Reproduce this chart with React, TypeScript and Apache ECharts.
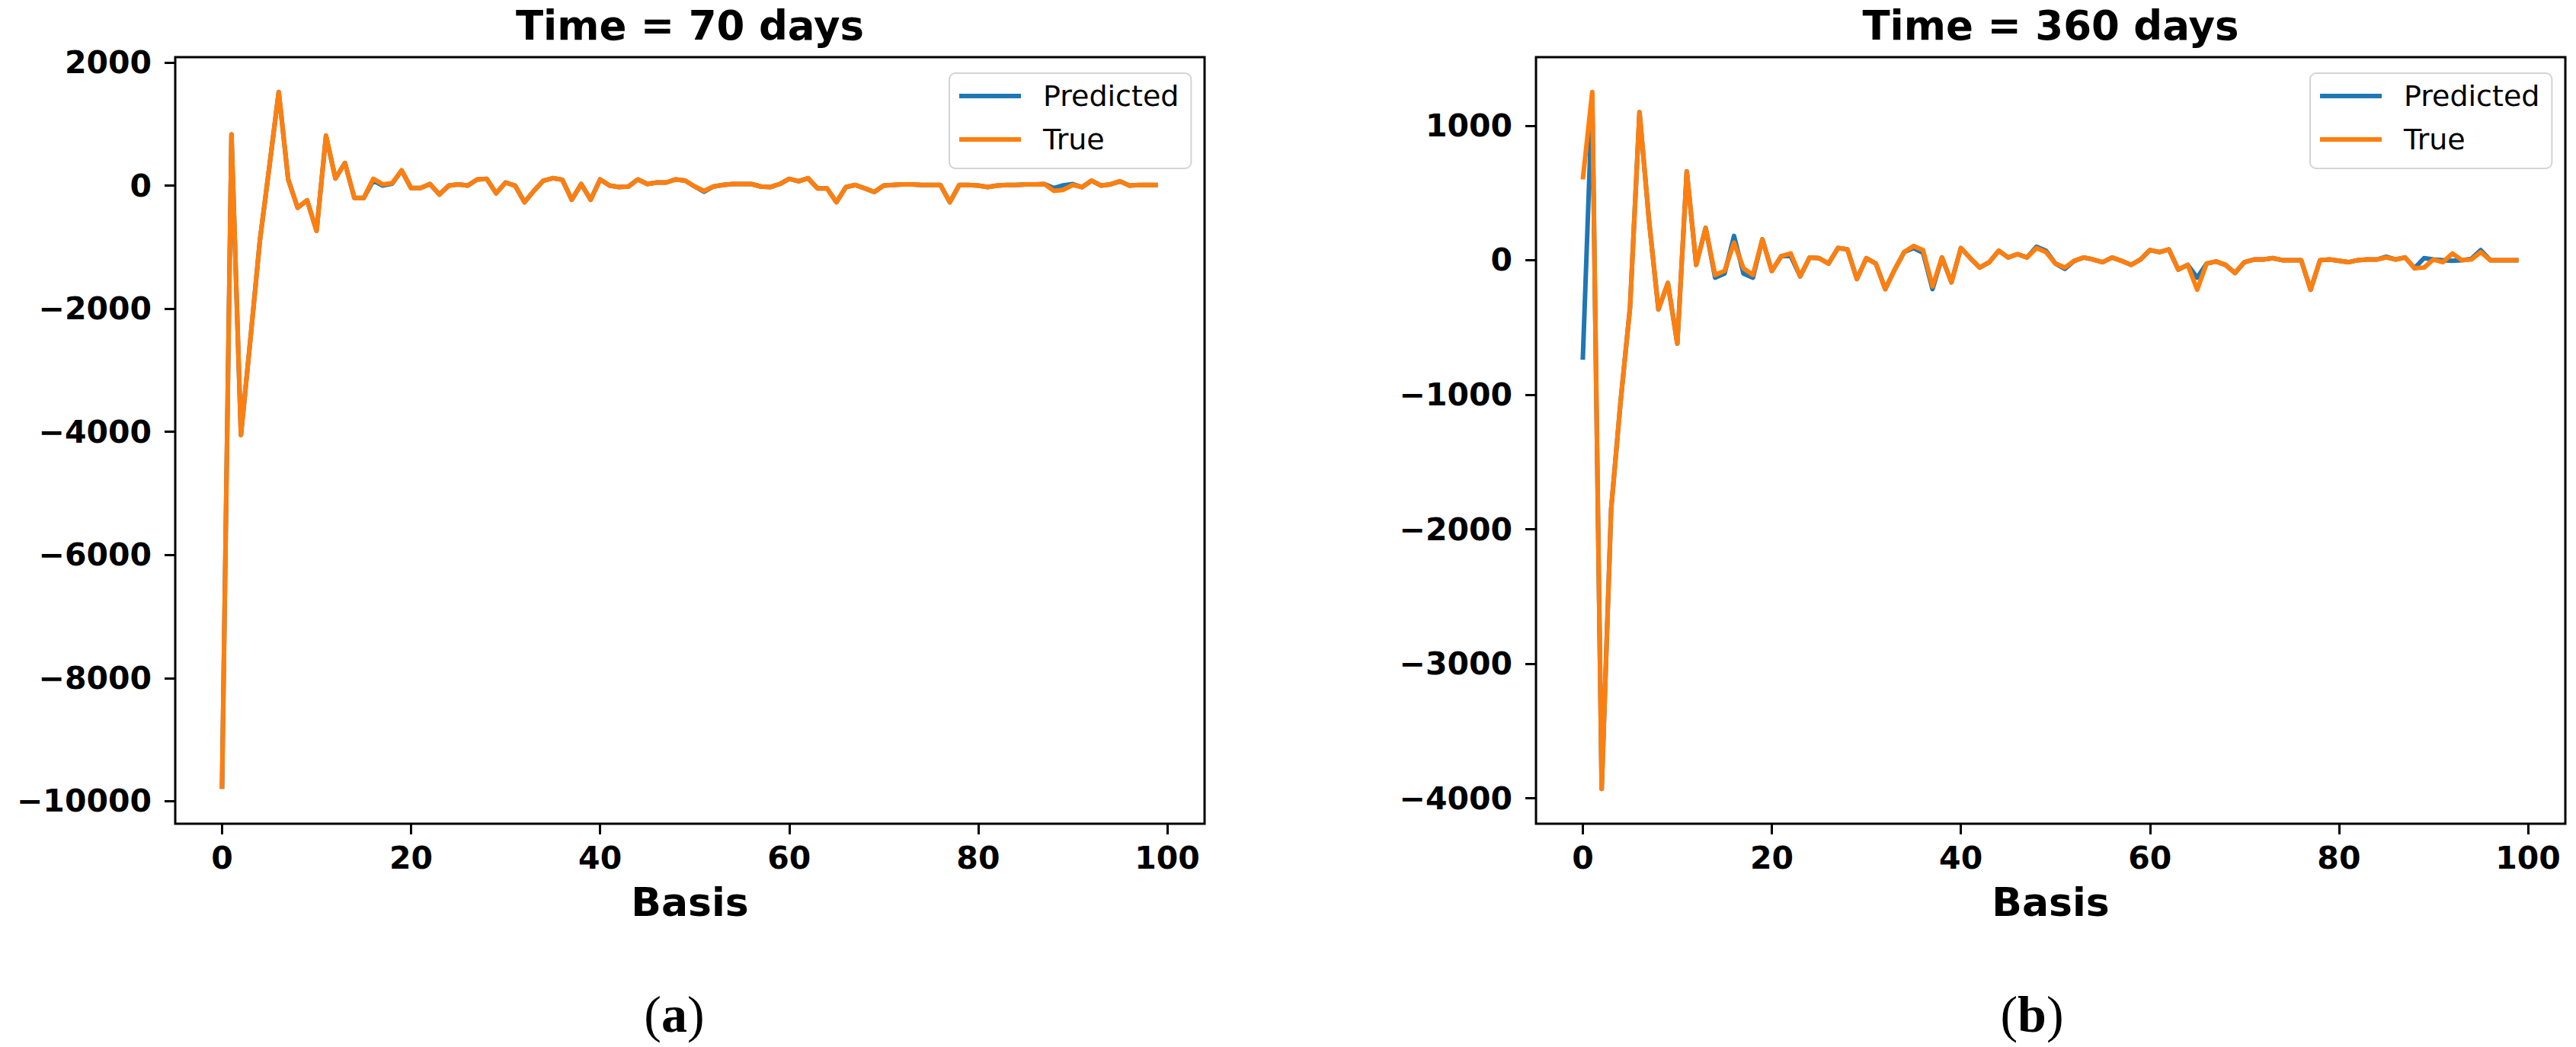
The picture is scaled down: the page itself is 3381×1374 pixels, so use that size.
import React, { useEffect, useRef } from "react";
import * as echarts from "echarts";

// ---------------- data ----------------
const basis: number[] = [
  0, 1, 2, 3, 4, 5, 6, 7, 8, 9, 10, 11, 12, 13, 14, 15, 16, 17, 18, 19,
  20, 21, 22, 23, 24, 25, 26, 27, 28, 29, 30, 31, 32, 33, 34, 35, 36, 37, 38, 39,
  40, 41, 42, 43, 44, 45, 46, 47, 48, 49, 50, 51, 52, 53, 54, 55, 56, 57, 58, 59,
  60, 61, 62, 63, 64, 65, 66, 67, 68, 69, 70, 71, 72, 73, 74, 75, 76, 77, 78, 79,
  80, 81, 82, 83, 84, 85, 86, 87, 88, 89, 90, 91, 92, 93, 94, 95, 96, 97, 98, 99,
];

const true70: number[] = [
  -9800, 830, -4050, -2500, -900, 300, 1520, 100, -360, -240,
  -735, 810, 115, 368, -200, -200, 110, 20, 40, 245,
  -40, -40, 25, -145, 0, 20, 0, 100, 110, -125,
  50, 0, -270, -85, 80, 120, 95, -230, 25, -230,
  100, 0, -25, -15, 100, 25, 50, 50, 100, 80,
  -15, -85, -15, 10, 25, 25, 25, -15, -25, 25,
  110, 70, 120, -45, -45, -270, -25, 10, -45, -105,
  0, 10, 20, 20, 10, 10, 10, -270, 10, 10,
  0, -25, 0, 10, 10, 20, 20, 25, -85, -70,
  10, -25, 80, 0, 20, 70, 0, 10, 10, 10,
];

const pred70: number[] = [
  -9800, 830, -4050, -2500, -900, 300, 1520, 100, -360, -240,
  -735, 810, 115, 368, -200, -200, 80, 0, 30, 245,
  -40, -40, 25, -145, 0, 20, 0, 100, 110, -125,
  50, 0, -270, -85, 80, 120, 95, -230, 25, -230,
  100, 0, -25, -15, 100, 25, 50, 50, 100, 80,
  -15, -100, -15, 10, 25, 25, 25, -15, -25, 25,
  110, 70, 120, -45, -45, -270, -25, 10, -45, -105,
  0, 10, 20, 20, 10, 10, 10, -270, 10, 10,
  0, -25, 0, 10, 10, 20, 20, 25, -40, 5,
  25, -25, 80, 0, 20, 70, 0, 10, 10, 10,
];

const true360: number[] = [
  600, 1250, -3930, -1850, -1050, -350, 1100, 300, -365, -170,
  -620, 660, -35, 240, -110, -80, 130, -60, -110, 155,
  -80, 30, 50, -120, 20, 15, -25, 90, 80, -140,
  15, -25, -215, -70, 60, 105, 75, -195, 20, -165,
  90, 15, -55, -15, 70, 20, 45, 20, 90, 60,
  -25, -55, -5, 20, 5, -15, 20, -5, -35, 5,
  75, 60, 80, -70, -35, -220, -25, -10, -35, -95,
  -15, 5, 5, 15, 0, 0, 0, -220, 0, 5,
  -5, -15, 0, 5, 5, 20, 5, 20, -60, -55,
  5, -15, 50, 0, 5, 60, 0, 0, 0, 0,
];

const pred360: number[] = [
  -740, 1230, -3930, -1850, -1050, -350, 1100, 300, -365, -170,
  -620, 660, -35, 240, -130, -100, 180, -100, -130, 155,
  -80, 30, 30, -120, 20, 15, -25, 90, 80, -140,
  15, -25, -215, -70, 60, 90, 55, -215, 20, -165,
  90, 15, -55, -15, 70, 20, 45, 20, 100, 70,
  -25, -65, -5, 20, 5, -15, 20, -5, -35, 5,
  75, 60, 80, -70, -35, -130, -25, -10, -35, -95,
  -15, 5, 5, 15, 0, 0, 0, -220, 0, 5,
  -5, -15, 0, 5, 5, 25, 5, 20, -60, 15,
  5, 0, -5, 0, 10, 75, 0, 0, 0, 0,
];

const xTicks: number[] = [0, 20, 40, 60, 80, 100];
const yTicks70: number[] = [-10000, -8000, -6000, -4000, -2000, 0, 2000];
const yTicks360: number[] = [-4000, -3000, -2000, -1000, 0, 1000];
const titles: string[] = ["Time = 70 days", "Time = 360 days"];
const seriesNames: string[] = ["Predicted", "True"];
const panelLetters: string[] = ["a", "b"];

// ---------------- styling ----------------
const FONT = "DejaVu Sans";
const BLUE = "#1f77b4";
const ORANGE = "#ff7f0e";
const GRID_TOP = 75;
const GRID_H = 1006;
const GRID_W = 1351;
const GRID_LEFTS = [230, 2016];

const fmtY = (v: number) => (v < 0 ? "\u2212" + Math.abs(v) : String(v));

function pairs(ys: number[]) {
  return basis.map((b, i) => [b, ys[i]]);
}

function extent(a: number[], b: number[]) {
  const all = a.concat(b);
  const mn = Math.min(...all);
  const mx = Math.max(...all);
  const pad = (mx - mn) * 0.05;
  return [mn - pad, mx + pad];
}

export default function App() {
  const ref = useRef<HTMLDivElement>(null);

  useEffect(() => {
    document.body.style.margin = "0";
    if (!ref.current) return;
    const chart = echarts.init(ref.current, undefined, { renderer: "svg" });

    const e70 = extent(true70, pred70);
    const e360 = extent(true360, pred360);
    const span = basis[basis.length - 1] - basis[0];
    const xExt = [basis[0] - 0.05 * span, basis[basis.length - 1] + 0.05 * span];

    const makeX = (gi: number) => ({
      gridIndex: gi,
      type: "value",
      min: xExt[0],
      max: xExt[1],
      axisLine: { show: false, onZero: false },
      axisTick: {
        show: true,
        length: 14,
        inside: false,
        customValues: xTicks,
        lineStyle: { color: "#000", width: 3 },
      },
      axisLabel: {
        customValues: xTicks,
        margin: 24,
        fontFamily: FONT,
        fontWeight: "bold",
        fontSize: 41,
        color: "#000",
      },
      splitLine: { show: false },
      name: "Basis",
      nameLocation: "middle",
      nameGap: 77,
      nameTextStyle: { fontFamily: FONT, fontWeight: "bold", fontSize: 52, color: "#000" },
    });

    const makeY = (gi: number, ext: number[], ticks: number[]) => ({
      gridIndex: gi,
      type: "value",
      min: ext[0],
      max: ext[1],
      axisLine: { show: false, onZero: false },
      axisTick: {
        show: true,
        length: 14,
        inside: false,
        customValues: ticks,
        lineStyle: { color: "#000", width: 3 },
      },
      axisLabel: {
        customValues: ticks,
        margin: 31,
        formatter: fmtY,
        fontFamily: FONT,
        fontWeight: "bold",
        fontSize: 41,
        color: "#000",
      },
      splitLine: { show: false },
    });

    const makeLegend = (left: number) => ({
      data: seriesNames,
      orient: "vertical",
      left,
      top: 96,
      icon: "rect",
      itemWidth: 81,
      itemHeight: 6,
      itemGap: 19,
      padding: [11, 16, 19, 13],
      backgroundColor: "#fff",
      borderColor: "#d4d4d4",
      borderWidth: 2,
      borderRadius: 8,
      selectedMode: false,
      textStyle: { fontFamily: FONT, fontSize: 38, color: "#000", padding: [0, 0, 0, 24] },
    });

    const line = (name: string, color: string, gi: number, ys: number[], z: number) => ({
      name,
      type: "line",
      xAxisIndex: gi,
      yAxisIndex: gi,
      data: pairs(ys),
      showSymbol: false,
      symbol: "none",
      z,
      itemStyle: { color },
      lineStyle: { color, width: 6, join: "round", cap: "butt" },
    });

    const centers = GRID_LEFTS.map((l) => l + GRID_W / 2);

    const option: any = {
      animation: false,
      backgroundColor: "#fff",
      grid: GRID_LEFTS.map((l) => ({
        left: l,
        top: GRID_TOP,
        width: GRID_W,
        height: GRID_H,
        show: true,
        borderColor: "#000",
        borderWidth: 3,
        backgroundColor: "transparent",
        containLabel: false,
      })),
      xAxis: [makeX(0), makeX(1)],
      yAxis: [makeY(0, e70, yTicks70), makeY(1, e360, yTicks360)],
      legend: [makeLegend(1246), makeLegend(3032)],
      series: [
        line(seriesNames[0], BLUE, 0, pred70, 2),
        line(seriesNames[1], ORANGE, 0, true70, 3),
        line(seriesNames[0], BLUE, 1, pred360, 2),
        line(seriesNames[1], ORANGE, 1, true360, 3),
      ],
      graphic: [
        ...titles.map((t, i) => ({
          type: "text",
          x: centers[i],
          y: 33,
          style: {
            text: t,
            fontFamily: FONT,
            fontWeight: "bold",
            fontSize: 53,
            fill: "#000",
            align: "center",
            verticalAlign: "middle",
          },
        })),
        ...panelLetters.map((p, i) => ({
          type: "text",
          x: [885, 2667][i],
          y: 1331,
          style: {
            text: "{p|(}{b|" + p + "}{p|)}",
            fill: "#000",
            align: "center",
            verticalAlign: "middle",
            rich: {
              p: { fontFamily: "Liberation Serif", fontSize: 68, fill: "#000" },
              b: { fontFamily: "Liberation Serif", fontSize: 68, fontWeight: "bold", fill: "#000" },
            },
          },
        })),
      ],
    };

    chart.setOption(option);
    return () => chart.dispose();
  }, []);

  return (
    <div
      ref={ref}
      style={{ position: "absolute", left: 0, top: 0, width: 3381, height: 1374 }}
    />
  );
}
